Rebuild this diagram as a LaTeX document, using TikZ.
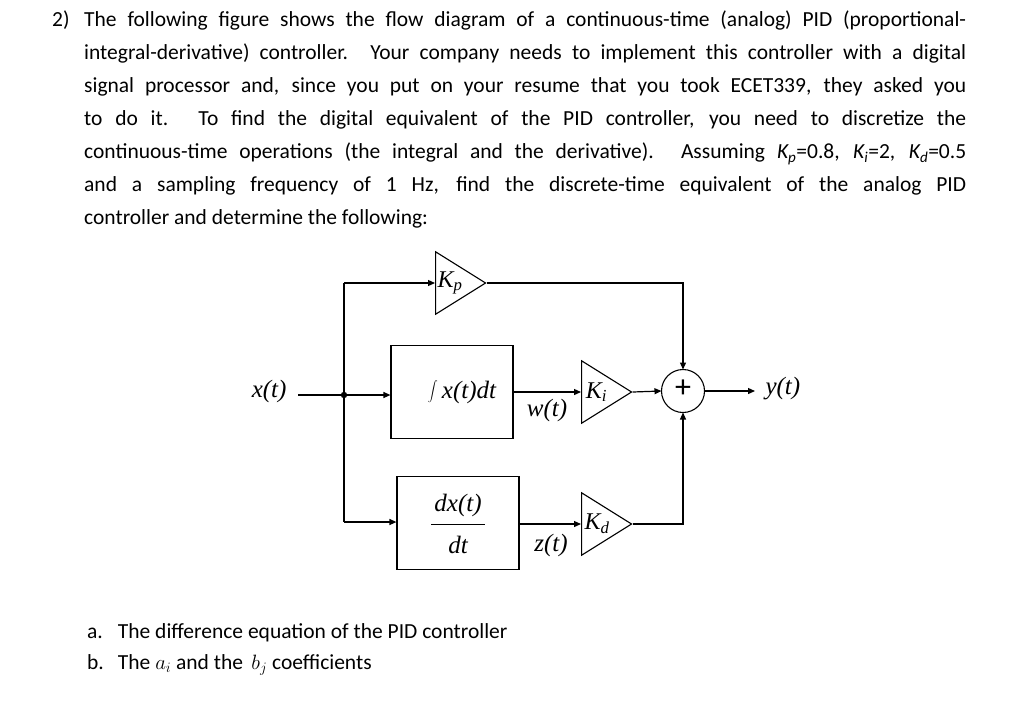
\documentclass[tikz,border=0pt]{standalone}
\usepackage{fontspec}
\setmainfont{Carlito}
\newfontfamily\dfont{Liberation Serif}
\usetikzlibrary{arrows.meta,shapes.geometric}
\begin{document}
\begin{tikzpicture}[x=1pt,y=-1pt,
  line/.style={line width=1.2pt},
  arr/.style={line,-{Triangle[length=7pt,width=6pt]}},
  blk/.style={draw,line width=1.2pt,minimum width=122pt,minimum height=93pt,inner sep=0pt},
  gain/.style={draw,line width=1.1pt,isosceles triangle,isosceles triangle apex angle=64,minimum height=50pt,inner sep=1pt,anchor=west,font=\dfont\itshape\fontsize{24}{24}\selectfont},
  dl/.style={font=\dfont\itshape\fontsize{25}{25}\selectfont},
  txt/.style={font=\fontsize{21.5}{33}\selectfont}]
\useasboundingbox (0,0) rectangle (1024,705);
\node[txt,anchor=north west,text width=882pt,align=justify,inner sep=0pt] (para) at (84,11)
{The following figure shows the flow diagram of a continuous-time (analog) PID (proportional-\linebreak integral-derivative) controller. Your company needs to implement this controller with a digital\linebreak signal processor and, since you put on your resume that you took ECET339, they asked you\linebreak to do it. To find the digital equivalent of the PID controller, you need to discretize the\linebreak continuous-time operations (the integral and the derivative). Assuming \textit{K\textsubscript{p}}=0.8, \textit{K\textsubscript{i}}=2, \textit{K\textsubscript{d}}=0.5\linebreak and a sampling frequency of 1~Hz, find the discrete-time equivalent of the analog PID\linebreak controller and determine the following:};
\node[txt,anchor=north west,inner sep=0pt] (num) at (52,11) {2)};
% diagram
\node[dl,anchor=east] (x) at (290,391) {x(t)};
\fill (344,395) circle (3.2pt) coordinate (d);
\node[gain] (kp) at (435,283) {K\textsubscript{p}};
\node[blk] (int) at (452,392) {};
\node[dl] (intl) at (462,392) {$\displaystyle\int$\hspace{4pt}x(t)dt};
\node[blk] (der) at (458,523) {};
\node[dl] (num1) at (458,505) {dx(t)};
\node[dl] (den1) at (458,545) {dt};
\draw[line width=0.8pt] (431,524) -- (485,524);
\node[gain] (ki) at (581,392) {K\textsubscript{i}};
\node[gain] (kd) at (581,524) {K\textsubscript{d}};
\draw[line width=1.1pt] (683,391) circle (21.5pt);
\coordinate (sum) at (683,391);
\node[font=\fontsize{32}{32}\selectfont] (plus) at (683,389) {+};
\node[dl,anchor=west] (y) at (762,389) {y(t)};
\node[dl] (w) at (547,410) {w(t)};
\node[dl] (z) at (551,545) {z(t)};
\coordinate (top) at (344,283);
\coordinate (bot) at (344,522);
\coordinate (xs) at (298,395);
\draw[line] (xs) -- (d);
\draw[arr] (d) -- (int.west |- d);
\draw[line] (bot) -- (top);
\draw[arr] (top) -- (kp.west);
\draw[arr] (bot) -- (der.west |- bot);
\draw[arr] (int.east |- 0,392) -- (ki.west);
\draw[arr] (der.east |- 0,524) -- (kd.west);
\draw[arr] (kp.apex) -| (683,369.5);
\draw[arr] (kd.apex) -| (683,412.5);
\draw[arr] (ki.apex) -- (661.5,391);
\draw[arr] (704.5,391) -- (755,391);
% questions
\node[txt,anchor=west,inner sep=0pt] (qa) at (87,633) {a.\hspace{15pt}The difference equation of the PID controller};
\node[txt,anchor=west,inner sep=0pt] (qb) at (87,665) {b.\hspace{14pt}The $a_i$ and the\, $b_j$ coefficients};
\end{tikzpicture}
\end{document}
